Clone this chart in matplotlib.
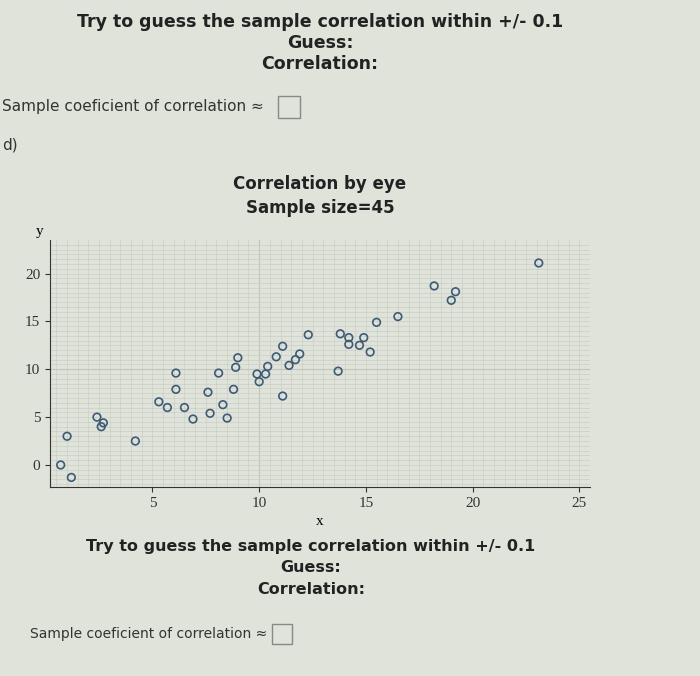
import matplotlib
matplotlib.use("Agg")
import matplotlib.pyplot as plt
from matplotlib.patches import Rectangle

# points
x_vals = [0.7, 1.2, 1.0, 2.4, 2.7, 2.6, 4.2, 5.3, 5.7, 6.1, 6.1, 6.5, 6.9, 7.6, 7.7,
          8.1, 8.3, 8.5, 8.8, 8.9, 9.0, 9.9, 10.0, 10.3, 10.4, 10.8, 11.1, 11.1, 11.4,
          11.7, 11.9, 12.3, 13.8, 13.7, 14.2, 14.2, 14.7, 14.9, 15.2, 15.5, 16.5, 18.2,
          19.0, 19.2, 23.1]
y_vals = [0.0, -1.3, 3.0, 5.0, 4.4, 4.0, 2.5, 6.6, 6.0, 9.6, 7.9, 6.0, 4.8, 7.6, 5.4,
          9.6, 6.3, 4.9, 7.9, 10.2, 11.2, 9.5, 8.7, 9.5, 10.3, 11.3, 12.4, 7.2, 10.4,
          11.0, 11.6, 13.6, 13.7, 9.8, 13.3, 12.6, 12.5, 13.3, 11.8, 14.9, 15.5, 18.7,
          17.2, 18.1, 21.1]
x_ticks = [5, 10, 15, 20, 25]
y_ticks = [0, 5, 10, 15, 20]

bg = "#dfe3d9"
W, H = 700, 676
fig = plt.figure(figsize=(7, 6.76), dpi=100, facecolor=bg)


def fx(px):
    return px / W


def fy(py):
    return 1 - py / H


def header(y0, size, x_off=0):
    fig.text(fx(320 + x_off), fy(y0), "Try to guess the sample correlation within +/- 0.1",
             ha="center", va="center", fontsize=size, fontweight="bold", color="#222222")
    fig.text(fx(320 + x_off), fy(y0 + 21), "Guess:", ha="center", va="center",
             fontsize=size, fontweight="bold", color="#222222")
    fig.text(fx(320 + x_off), fy(y0 + 42), "Correlation:", ha="center", va="center",
             fontsize=size, fontweight="bold", color="#222222")


header(22, 12.5)
fig.text(fx(2), fy(107), "Sample coeficient of correlation \u2248", ha="left", va="center",
         fontsize=11, color="#333333")
fig.add_artist(Rectangle((fx(278), fy(118)), 22 / W, 22 / H, transform=fig.transFigure,
                         fill=False, edgecolor="#888888", lw=1))
fig.text(fx(2), fy(145), "d)", ha="left", va="center", fontsize=11, color="#333333")

fig.text(fx(320), fy(184), "Correlation by eye", ha="center", va="center",
         fontsize=12, fontweight="bold", color="#222222")
fig.text(fx(320), fy(208), "Sample size=45", ha="center", va="center",
         fontsize=12, fontweight="bold", color="#222222")

ax = fig.add_axes([fx(50), fy(487), (590 - 50) / W, (487 - 240) / H])
ax.set_facecolor(bg)
ax.scatter(x_vals, y_vals, s=30, facecolors="none", edgecolors="#3f5a78", linewidths=1.2,
           zorder=3)
ax.set_xlim(0.2, 25.5)
ax.set_ylim(-2.3, 23.5)
ax.set_xticks(x_ticks)
ax.set_yticks(y_ticks)
ax.set_xticks([i * 0.5 for i in range(1, 51)], minor=True)
ax.set_yticks([i * 0.5 - 2 for i in range(0, 51)], minor=True)
ax.grid(which="minor", color="#c9cfc4", lw=0.5)
ax.grid(which="major", axis="both", color="#c9cfc4", lw=0.5)
for v in (10,):
    ax.axvline(v, color="#aeb4aa", lw=0.8, zorder=1)
    ax.axhline(v, color="#aeb4aa", lw=0.8, zorder=1)
ax.tick_params(which="minor", length=0)
ax.tick_params(which="major", labelsize=11, colors="#333333")
for lab in ax.get_xticklabels() + ax.get_yticklabels():
    lab.set_fontfamily("Liberation Serif")
for s in ("top", "right"):
    ax.spines[s].set_visible(False)
ax.spines["left"].set_color("#333333")
ax.spines["bottom"].set_color("#333333")
ax.set_xlabel("x", fontsize=11, fontfamily="Liberation Serif")
ax.text(-0.02, 1.02, "y", transform=ax.transAxes, fontsize=11,
        fontfamily="Liberation Serif", ha="center")

header(547, 11.5, x_off=-9)
fig.text(fx(30), fy(634), "Sample coeficient of correlation \u2248", ha="left", va="center",
         fontsize=10, color="#333333")
fig.add_artist(Rectangle((fx(272), fy(644)), 20 / W, 20 / H, transform=fig.transFigure,
                         fill=False, edgecolor="#888888", lw=1))

fig.savefig("out.png", dpi=100, facecolor=bg)
